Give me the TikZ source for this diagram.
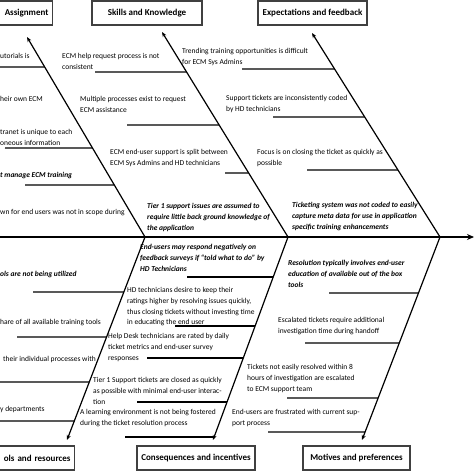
\documentclass[tikz,border=0pt]{standalone}
\usepackage{fontspec}
\setmainfont{Carlito}
\usetikzlibrary{arrows.meta,positioning}

% rib: horizontal line from a free end to the bone #1--#2 at height #4
\newcommand{\rib}[4]{\draw[rib] (#3,#4) -- (intersection of #1--#2 and 0,#4--1,#4);}

\begin{document}
\begin{tikzpicture}[x=1pt,y=-1pt,
  title/.style={draw=black!75,line width=1.1pt,fill=white,minimum height=24pt,
    inner sep=4pt,font=\fontsize{9}{11}\selectfont\bfseries},
  cause/.style={anchor=north west,align=left,inner sep=0pt,
    font=\fontsize{7.5}{10.8}\selectfont},
  keycause/.style={cause,font=\fontsize{7.5}{10.8}\selectfont\bfseries\itshape},
  bone/.style={line width=1.2pt,-{Stealth[length=5pt,width=4pt]}},
  rib/.style={line width=1.2pt},
  spine/.style={line width=1.7pt,-{Stealth[length=7pt,width=6pt]}}]

\useasboundingbox (0,0) rectangle (474,474);
\clip (0,0) rectangle (474,474);

% category boxes
\node[title,text width=100pt,align=right,anchor=east] (assign) at (53,13) {Assignment};
\node[title,minimum width=110pt] (skills) at (147,13) {Skills and Knowledge};
\node[title,minimum width=109pt] (expect) at (312.5,13) {Expectations and feedback};
\node[title,text width=100pt,align=right,anchor=east] (tools) at (75,458) {ols and resources};
\node[title,minimum width=118pt] (conseq) at (196,458) {Consequences and incentives};
\node[title,minimum width=107pt] (motive) at (356.5,458) {Motives and preferences};

% spine and bones
\coordinate (s0) at (0,237);
\coordinate (s1) at (474,237);
\coordinate (p1) at (145,237);
\coordinate (p2) at (288,237);
\coordinate (p3) at (440,237);
\coordinate (ta) at (27,37);
\coordinate (tb) at (162,32);
\coordinate (tc) at (312,33);
\coordinate (td) at (67,440);
\coordinate (te) at (213,440);
\coordinate (tf) at (362,440);
\draw[spine] (s0) -- (s1);
\draw[bone] (p1) -- (ta);
\draw[bone] (p2) -- (tb);
\draw[bone] (p3) -- (tc);
\draw[bone] (p1) -- (td);
\draw[bone] (p2) -- (te);
\draw[bone] (p3) -- (tf);

% Assignment
\node[cause] (a1) at (0,53) {utorials is};
\node[cause] (a2) at (0,96) {heir own ECM};
\node[cause] (a3) at (0,129) {tranet is unique to each\\oneous information};
\node[keycause] (a4) at (0,172) {t manage ECM training};
\node[cause] (a5) at (0,209) {wn for end users was not in scope during};
\rib{p1}{ta}{0}{67}
\rib{p1}{ta}{5}{148}
\rib{p1}{ta}{25}{185}

% Skills and Knowledge
\node[cause] (b1) at (62,53) {ECM help request process is not\\consistent};
\node[cause] (b2) at (80,96) {Multiple processes exist to request\\ECM assistance};
\node[cause] (b3) at (110,149) {ECM end-user support is split between\\ECM Sys Admins and HD technicians};
\node[keycause] (b4) at (147,203) {Tier 1 support issues are assumed to\\require little back ground knowledge of\\the application};
\rib{p2}{tb}{95}{72}
\rib{p2}{tb}{127}{125}
\rib{p2}{tb}{225}{173}

% Expectations and feedback
\node[cause] (c1) at (182,48) {Trending training opportunities is difficult\\for ECM Sys Admins};
\node[cause] (c2) at (226,95) {Support tickets are inconsistently coded\\by HD technicians};
\node[cause] (c3) at (257,149) {Focus is on closing the ticket as quickly as\\possible};
\node[keycause] (c4) at (292,202) {Ticketing system was not coded to easily\\capture meta data for use in application\\specific training enhancements};
\rib{p3}{tc}{242}{69}
\rib{p3}{tc}{273}{117}
\rib{p3}{tc}{307}{170}

% Tools and resources
\node[keycause] (d1) at (0,271) {ols are not being utilized};
\node[cause] (d2) at (0,319) {hare of all available training tools};
\node[cause] (d3) at (3,356) {their individual processes with};
\node[cause] (d4) at (0,406) {y departments};
\rib{p1}{td}{33}{292}
\rib{p1}{td}{17}{337}
\rib{p1}{td}{0}{382}
\rib{p1}{td}{0}{421}

% Consequences and incentives
\node[keycause] (e1) at (140,244) {End-users may respond negatively on\\feedback surveys if ``told what to do'' by\\HD Technicians};
\node[cause] (e2) at (127,287) {HD technicians desire to keep their\\ratings higher by resolving issues quickly,\\thus closing tickets without investing time\\in educating the end user};
\node[cause] (e3) at (108,333) {Help Desk technicians are rated by daily\\ticket metrics and end-user survey\\responses};
\node[cause] (e4) at (93,377) {Tier 1 Support tickets are closed as quickly\\as possible with minimal end-user interac-\\tion};
\node[cause] (e5) at (80,409) {A learning environment is not being fostered\\during the ticket resolution process};
\rib{p2}{te}{187}{277}
\rib{p2}{te}{175}{326}
\rib{p2}{te}{147}{358}
\rib{p2}{te}{137}{402}
\rib{p2}{te}{125}{437}

% Motives and preferences
\node[keycause] (f1) at (288,260) {Resolution typically involves end-user\\education of available out of the box\\tools};
\node[cause] (f2) at (278,317) {Escalated tickets require additional\\investigation time during handoff};
\node[cause] (f3) at (247,364) {Tickets not easily resolved within 8\\hours of investigation are escalated\\to ECM support team};
\node[cause] (f4) at (232,409) {End-users are frustrated with current sup-\\port process};
\rib{p3}{tf}{329}{293}
\rib{p3}{tf}{305}{343}
\rib{p3}{tf}{287}{398}
\rib{p3}{tf}{268}{432}
\end{tikzpicture}
\end{document}
